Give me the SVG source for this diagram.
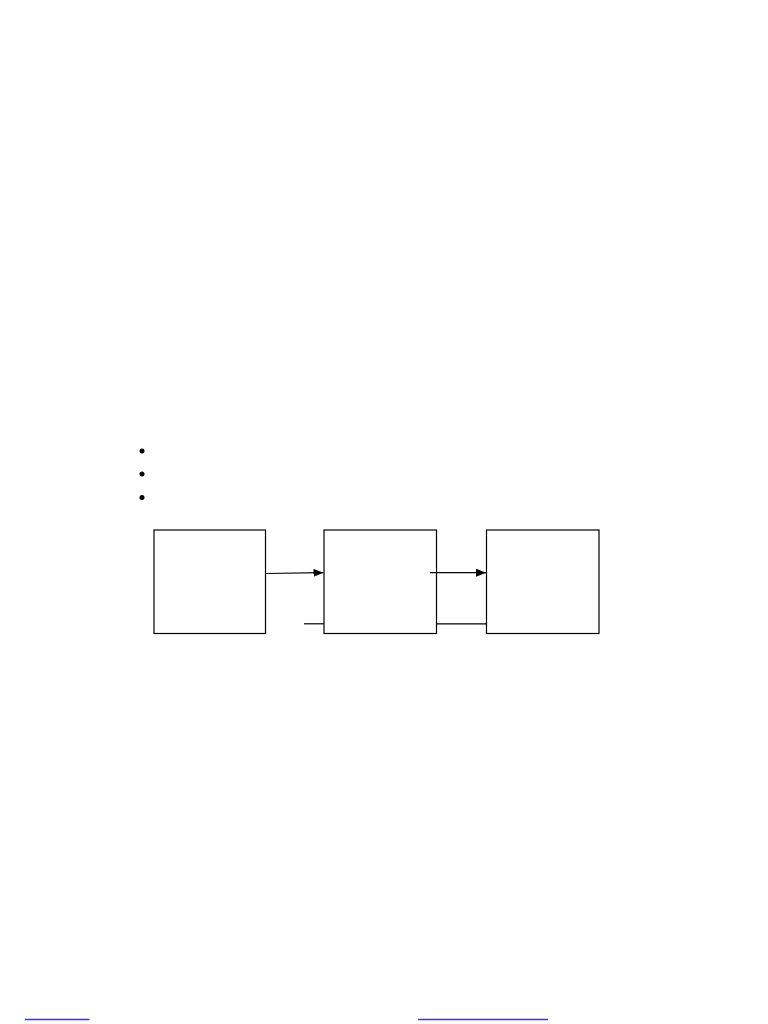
<svg xmlns="http://www.w3.org/2000/svg" width="768" height="1024" viewBox="0 0 768 1024">
<style>
.box{fill:#fff;stroke:#000;stroke-width:1.2}
.con{stroke:#000;stroke-width:1.2;fill:none}
.bul{fill:#000}
.link{stroke:#3333ff;stroke-width:1.3}
</style>
<defs>
<marker id="ah" markerWidth="10" markerHeight="8" refX="10" refY="4" orient="auto" markerUnits="userSpaceOnUse">
<path d="M0,0 L10,4 L0,8 Z" fill="#000"/>
</marker>
</defs>
<rect width="768" height="1024" fill="#fff"/>
<g id="bullets">
<circle class="bul" cx="142" cy="451" r="2.5"/>
<circle class="bul" cx="142" cy="474" r="2.5"/>
<circle class="bul" cx="142" cy="497.5" r="2.5"/>
</g>
<g id="node1"><rect class="box" x="154" y="530" width="111.5" height="103.5"/></g>
<g id="node2"><rect class="box" x="324" y="530" width="112.5" height="103.5"/></g>
<g id="node3"><rect class="box" x="486.5" y="530" width="112.5" height="103.5"/></g>
<g id="connectors">
<line class="con" x1="265.5" y1="573.5" x2="323.5" y2="572.7" marker-end="url(#ah)"/>
<line class="con" x1="430" y1="572.7" x2="486" y2="572.7" marker-end="url(#ah)"/>
<line class="con" x1="304" y1="623.8" x2="324" y2="623.8"/>
<line class="con" x1="436.5" y1="623.8" x2="486.5" y2="623.8"/>
</g>
<g id="footer">
<line class="link" x1="25" y1="1019.5" x2="89.5" y2="1019.5"/>
<line class="link" x1="418" y1="1019.5" x2="548" y2="1019.5"/>
</g>
</svg>
